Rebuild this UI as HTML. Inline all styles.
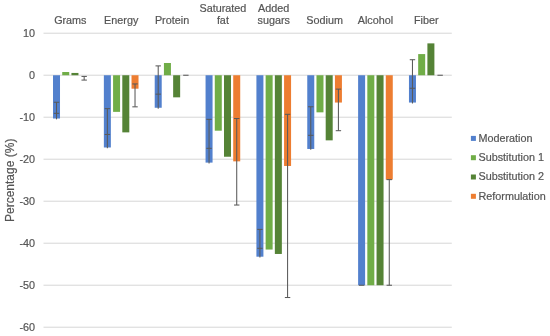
<!DOCTYPE html>
<html><head><meta charset="utf-8"><style>
html,body{margin:0;padding:0;background:#fff;}
svg{display:block;will-change:transform;}
.t{font-family:"Liberation Sans",sans-serif;font-size:10.8px;fill:#555555;stroke:#555555;stroke-width:0.2px;}
</style></head><body>
<svg width="550" height="336" viewBox="0 0 550 336">
<rect width="550" height="336" fill="#fff"/>
<rect x="43.5" y="32.65" width="408.30" height="1.2" fill="#DEDEDE"/>
<text x="35" y="37.05" text-anchor="end" class="t">10</text>
<rect x="43.5" y="74.65" width="408.30" height="1.2" fill="#DEDEDE"/>
<text x="35" y="79.05" text-anchor="end" class="t">0</text>
<rect x="43.5" y="116.65" width="408.30" height="1.2" fill="#DEDEDE"/>
<text x="35" y="121.05" text-anchor="end" class="t">-10</text>
<rect x="43.5" y="158.65" width="408.30" height="1.2" fill="#DEDEDE"/>
<text x="35" y="163.05" text-anchor="end" class="t">-20</text>
<rect x="43.5" y="200.65" width="408.30" height="1.2" fill="#DEDEDE"/>
<text x="35" y="205.05" text-anchor="end" class="t">-30</text>
<rect x="43.5" y="242.65" width="408.30" height="1.2" fill="#DEDEDE"/>
<text x="35" y="247.05" text-anchor="end" class="t">-40</text>
<rect x="43.5" y="284.65" width="408.30" height="1.2" fill="#DEDEDE"/>
<text x="35" y="289.05" text-anchor="end" class="t">-50</text>
<rect x="43.5" y="326.65" width="408.30" height="1.2" fill="#DEDEDE"/>
<text x="35" y="331.05" text-anchor="end" class="t">-60</text>
<rect x="53.01" y="75.25" width="7.0" height="43.26" fill="#5280CD"/>
<rect x="62.23" y="72.02" width="7.0" height="3.23" fill="#70AD47"/>
<rect x="71.45" y="72.94" width="7.0" height="2.31" fill="#558336"/>
<rect x="103.86" y="75.25" width="7.0" height="72.24" fill="#5280CD"/>
<rect x="113.08" y="75.25" width="7.0" height="36.62" fill="#70AD47"/>
<rect x="122.30" y="75.25" width="7.0" height="57.12" fill="#558336"/>
<rect x="131.52" y="75.25" width="7.0" height="13.44" fill="#ED7D31"/>
<rect x="154.71" y="75.25" width="7.0" height="32.51" fill="#5280CD"/>
<rect x="163.93" y="62.99" width="7.0" height="12.26" fill="#70AD47"/>
<rect x="173.15" y="75.25" width="7.0" height="22.09" fill="#558336"/>
<rect x="205.56" y="75.25" width="7.0" height="87.36" fill="#5280CD"/>
<rect x="214.78" y="75.25" width="7.0" height="55.44" fill="#70AD47"/>
<rect x="224.00" y="75.25" width="7.0" height="81.48" fill="#558336"/>
<rect x="233.22" y="75.25" width="7.0" height="86.10" fill="#ED7D31"/>
<rect x="256.41" y="75.25" width="7.0" height="181.44" fill="#5280CD"/>
<rect x="265.63" y="75.25" width="7.0" height="174.30" fill="#70AD47"/>
<rect x="274.85" y="75.25" width="7.0" height="178.71" fill="#558336"/>
<rect x="284.07" y="75.25" width="7.0" height="90.72" fill="#ED7D31"/>
<rect x="307.26" y="75.25" width="7.0" height="73.71" fill="#5280CD"/>
<rect x="316.48" y="75.25" width="7.0" height="37.09" fill="#70AD47"/>
<rect x="325.70" y="75.25" width="7.0" height="65.10" fill="#558336"/>
<rect x="334.92" y="75.25" width="7.0" height="27.30" fill="#ED7D31"/>
<rect x="358.11" y="75.25" width="7.0" height="210.00" fill="#5280CD"/>
<rect x="367.33" y="75.25" width="7.0" height="210.00" fill="#70AD47"/>
<rect x="376.55" y="75.25" width="7.0" height="210.00" fill="#558336"/>
<rect x="385.77" y="75.25" width="7.0" height="104.37" fill="#ED7D31"/>
<rect x="408.96" y="75.25" width="7.0" height="27.30" fill="#5280CD"/>
<rect x="418.18" y="54.08" width="7.0" height="21.17" fill="#70AD47"/>
<rect x="427.40" y="43.37" width="7.0" height="31.88" fill="#558336"/>
<line x1="56.51" x2="56.51" y1="102.26" y2="119.35" stroke="#5A5A5A" stroke-width="1.05"/>
<line x1="53.81" x2="59.21" y1="102.26" y2="102.26" stroke="#5A5A5A" stroke-width="1.05"/>
<line x1="53.81" x2="59.21" y1="113.34" y2="113.34" stroke="#5A5A5A" stroke-width="1.05"/>
<line x1="84.17" x2="84.17" y1="76.43" y2="80.08" stroke="#5A5A5A" stroke-width="1.05"/>
<line x1="81.47" x2="86.87" y1="76.43" y2="76.43" stroke="#5A5A5A" stroke-width="1.05"/>
<line x1="81.47" x2="86.87" y1="80.08" y2="80.08" stroke="#5A5A5A" stroke-width="1.05"/>
<line x1="107.36" x2="107.36" y1="108.64" y2="148.33" stroke="#5A5A5A" stroke-width="1.05"/>
<line x1="104.66" x2="110.06" y1="108.64" y2="108.64" stroke="#5A5A5A" stroke-width="1.05"/>
<line x1="104.66" x2="110.06" y1="134.47" y2="134.47" stroke="#5A5A5A" stroke-width="1.05"/>
<line x1="135.02" x2="135.02" y1="83.94" y2="106.83" stroke="#5A5A5A" stroke-width="1.05"/>
<line x1="132.32" x2="137.72" y1="83.94" y2="83.94" stroke="#5A5A5A" stroke-width="1.05"/>
<line x1="132.32" x2="137.72" y1="106.83" y2="106.83" stroke="#5A5A5A" stroke-width="1.05"/>
<line x1="158.21" x2="158.21" y1="65.88" y2="108.64" stroke="#5A5A5A" stroke-width="1.05"/>
<line x1="155.51" x2="160.91" y1="65.88" y2="65.88" stroke="#5A5A5A" stroke-width="1.05"/>
<line x1="155.51" x2="160.91" y1="94.15" y2="94.15" stroke="#5A5A5A" stroke-width="1.05"/>
<line x1="183.17" x2="188.57" y1="75.25" y2="75.25" stroke="#5A5A5A" stroke-width="1.05"/>
<line x1="209.06" x2="209.06" y1="119.35" y2="163.45" stroke="#5A5A5A" stroke-width="1.05"/>
<line x1="206.36" x2="211.76" y1="119.35" y2="119.35" stroke="#5A5A5A" stroke-width="1.05"/>
<line x1="206.36" x2="211.76" y1="148.33" y2="148.33" stroke="#5A5A5A" stroke-width="1.05"/>
<line x1="236.72" x2="236.72" y1="118.51" y2="205.03" stroke="#5A5A5A" stroke-width="1.05"/>
<line x1="234.02" x2="239.42" y1="118.51" y2="118.51" stroke="#5A5A5A" stroke-width="1.05"/>
<line x1="234.02" x2="239.42" y1="205.03" y2="205.03" stroke="#5A5A5A" stroke-width="1.05"/>
<line x1="259.91" x2="259.91" y1="229.39" y2="257.53" stroke="#5A5A5A" stroke-width="1.05"/>
<line x1="257.21" x2="262.61" y1="229.39" y2="229.39" stroke="#5A5A5A" stroke-width="1.05"/>
<line x1="257.21" x2="262.61" y1="248.29" y2="248.29" stroke="#5A5A5A" stroke-width="1.05"/>
<line x1="287.57" x2="287.57" y1="114.31" y2="297.51" stroke="#5A5A5A" stroke-width="1.05"/>
<line x1="284.87" x2="290.27" y1="114.31" y2="114.31" stroke="#5A5A5A" stroke-width="1.05"/>
<line x1="284.87" x2="290.27" y1="297.51" y2="297.51" stroke="#5A5A5A" stroke-width="1.05"/>
<line x1="310.76" x2="310.76" y1="106.75" y2="149.80" stroke="#5A5A5A" stroke-width="1.05"/>
<line x1="308.06" x2="313.46" y1="106.75" y2="106.75" stroke="#5A5A5A" stroke-width="1.05"/>
<line x1="308.06" x2="313.46" y1="135.31" y2="135.31" stroke="#5A5A5A" stroke-width="1.05"/>
<line x1="338.42" x2="338.42" y1="89.11" y2="130.69" stroke="#5A5A5A" stroke-width="1.05"/>
<line x1="335.72" x2="341.12" y1="89.11" y2="89.11" stroke="#5A5A5A" stroke-width="1.05"/>
<line x1="335.72" x2="341.12" y1="130.69" y2="130.69" stroke="#5A5A5A" stroke-width="1.05"/>
<line x1="389.27" x2="389.27" y1="179.62" y2="285.25" stroke="#5A5A5A" stroke-width="1.05"/>
<line x1="386.57" x2="391.97" y1="179.62" y2="179.62" stroke="#5A5A5A" stroke-width="1.05"/>
<line x1="386.57" x2="391.97" y1="285.25" y2="285.25" stroke="#5A5A5A" stroke-width="1.05"/>
<line x1="358.91" x2="364.31" y1="285.25" y2="285.25" stroke="#5A5A5A" stroke-width="1.05"/>
<line x1="412.46" x2="412.46" y1="59.71" y2="103.39" stroke="#5A5A5A" stroke-width="1.05"/>
<line x1="409.76" x2="415.16" y1="59.71" y2="59.71" stroke="#5A5A5A" stroke-width="1.05"/>
<line x1="409.76" x2="415.16" y1="88.27" y2="88.27" stroke="#5A5A5A" stroke-width="1.05"/>
<line x1="437.42" x2="442.82" y1="75.25" y2="75.25" stroke="#5A5A5A" stroke-width="1.05"/>
<text x="70.34" y="24" text-anchor="middle" class="t">Grams</text>
<text x="121.19" y="24" text-anchor="middle" class="t">Energy</text>
<text x="172.04" y="24" text-anchor="middle" class="t">Protein</text>
<text x="222.89" y="11.6" text-anchor="middle" class="t">Saturated</text>
<text x="222.89" y="24" text-anchor="middle" class="t">fat</text>
<text x="273.74" y="11.6" text-anchor="middle" class="t">Added</text>
<text x="273.74" y="24" text-anchor="middle" class="t">sugars</text>
<text x="324.59" y="24" text-anchor="middle" class="t">Sodium</text>
<text x="375.44" y="24" text-anchor="middle" class="t">Alcohol</text>
<text x="426.29" y="24" text-anchor="middle" class="t">Fiber</text>
<rect x="470.9" y="135.90" width="5" height="5" fill="#5280CD"/>
<text x="478.5" y="141.80" class="t">Moderation</text>
<rect x="470.9" y="155.20" width="5" height="5" fill="#70AD47"/>
<text x="478.5" y="161.10" class="t">Substitution 1</text>
<rect x="470.9" y="174.50" width="5" height="5" fill="#558336"/>
<text x="478.5" y="180.40" class="t">Substitution 2</text>
<rect x="470.9" y="193.80" width="5" height="5" fill="#ED7D31"/>
<text x="478.5" y="199.70" class="t">Reformulation</text>
<text transform="translate(14.1,180.3) rotate(-90)" text-anchor="middle" class="t" style="font-size:12px">Percentage (%)</text>
</svg></body></html>
